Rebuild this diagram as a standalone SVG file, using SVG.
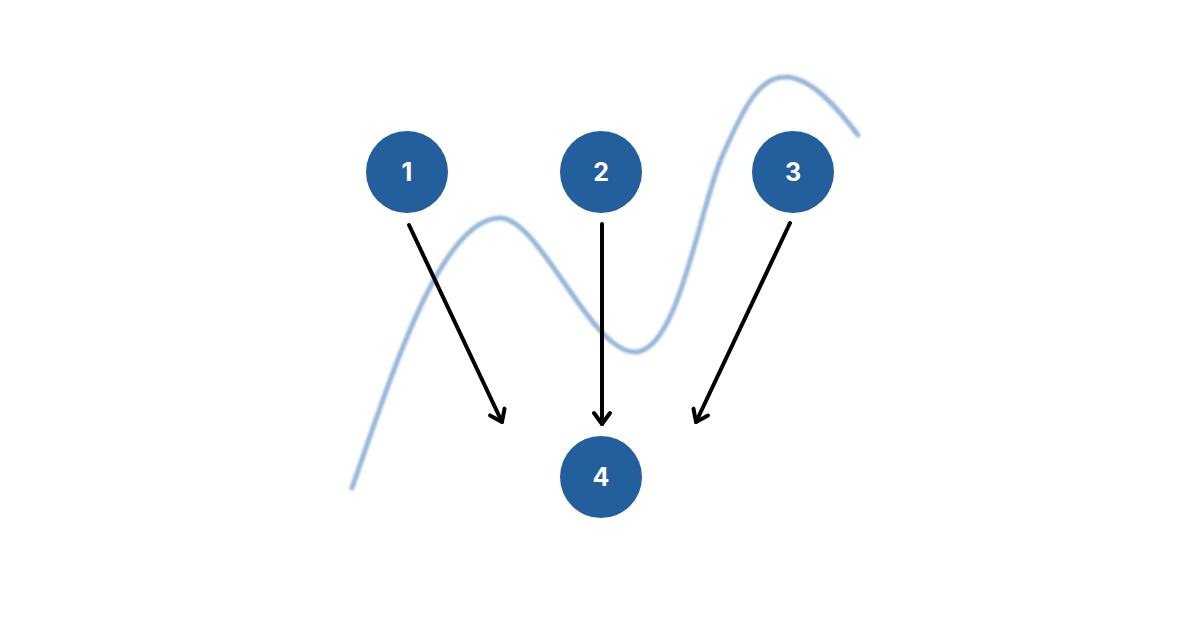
<svg xmlns="http://www.w3.org/2000/svg" width="1200" height="627" viewBox="0 0 1200 627">
  <defs>
    <style>
      .node { fill: #235f9d; }
      .label { fill: #ffffff; font-family: Inter, "Open Sans", "Liberation Sans", sans-serif; font-weight: 700; font-size: 25px; text-anchor: middle; dominant-baseline: central; }
      .conn { stroke: #000000; stroke-width: 4; fill: none; stroke-linecap: round; marker-end: url(#arrow); }
      .wave { stroke: #98b8da; stroke-width: 5; fill: none; stroke-linecap: round; filter: url(#blur); }
    </style>
    <filter id="blur" x="-10%" y="-10%" width="120%" height="120%">
      <feGaussianBlur stdDeviation="1.3"/>
    </filter>
    <marker id="arrow" viewBox="0 0 20 20" refX="17" refY="10" markerWidth="20" markerHeight="20" markerUnits="userSpaceOnUse" orient="auto">
      <path d="M6,2 L17,10 L6,18" fill="none" stroke="#000" stroke-width="4" stroke-linecap="round" stroke-linejoin="round"/>
    </marker>
  </defs>
  <rect width="1200" height="627" fill="#ffffff"/>
  <path class="wave" d="M352,488 C390,380 440,218 500,218 C540,218 590,352 635,352 C680,352 700,200 725,150 C745,105 760,77 785,77 C810,77 835,105 858,135"/>
  <g id="connectors">
    <line class="conn" x1="409" y1="225" x2="502" y2="422"/>
    <line class="conn" x1="602" y1="224" x2="602" y2="424"/>
    <line class="conn" x1="790" y1="223" x2="696" y2="422"/>
  </g>
  <g id="node1"><circle class="node" cx="407" cy="172" r="41"/><text class="label" x="407" y="172">1</text></g>
  <g id="node2"><circle class="node" cx="601" cy="172" r="41"/><text class="label" x="601" y="172">2</text></g>
  <g id="node3"><circle class="node" cx="793" cy="172" r="41"/><text class="label" x="793" y="172">3</text></g>
  <g id="node4"><circle class="node" cx="601" cy="477" r="41"/><text class="label" x="601" y="477">4</text></g>
</svg>
